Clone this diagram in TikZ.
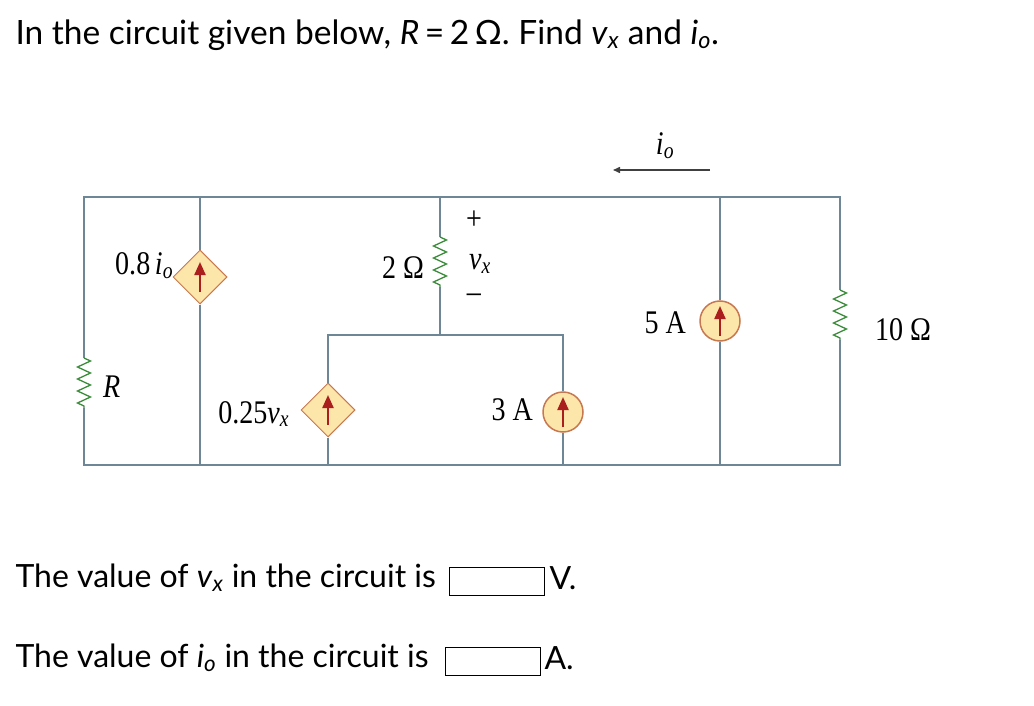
\documentclass[tikz,border=0pt]{standalone}
\usepackage{fontspec}
\setmainfont{Liberation Serif}
\newfontfamily\uisans{Lato}
\usetikzlibrary{shapes.geometric,decorations.pathmorphing,arrows.meta}
\definecolor{wire}{RGB}{110,135,150}
\definecolor{resg}{RGB}{60,140,60}
\definecolor{srcfill}{RGB}{253,230,170}
\definecolor{srcedge}{RGB}{200,120,80}
\definecolor{arr}{RGB}{170,30,30}
\tikzset{
 x=1pt,y=-1pt,
 w/.style={draw=wire,line width=1.5pt},
 res/.style={draw=resg,line width=1.3pt,decorate,decoration={zigzag,segment length=12pt,amplitude=6.5pt}},
 dsrc/.style={diamond,draw=srcedge,fill=srcfill,line width=1pt,minimum width=54pt,minimum height=54pt,inner sep=0pt},
 isrc/.style={circle,draw=srcedge,fill=srcfill,line width=1.5pt,minimum size=40pt,inner sep=0pt},
 lbl/.style={font=\fontsize{33}{38}\selectfont,xscale=0.85},
 txt/.style={font=\uisans\fontsize{33.5}{38}\selectfont,anchor=west},
 qtxt/.style={font=\uisans\fontsize{32}{38}\selectfont,anchor=west},
 ansbox/.style={draw=black,line width=1pt,minimum width=95pt,minimum height=28pt,inner sep=0pt}
}
\newcommand{\uparr}[1]{\draw[arr,line width=2.2pt,-{Triangle[width=11pt,length=13pt]}] ([yshift=-15pt]#1.center) -- ([yshift=15pt]#1.center);}
\begin{document}
\begin{tikzpicture}
\useasboundingbox (0,0) rectangle (1034,706);
\node[txt] (title) at (12,35) {In the circuit given below, \textit{R}\,=\,2\,Ω. Find \textit{v}\textsubscript{\textit{x}} and \textit{i}\textsubscript{\textit{o}}.};
\coordinate (tl) at (84,197); \coordinate (bl) at (84,465);
\coordinate (tr) at (840,197); \coordinate (br) at (840,465);
\coordinate (rA) at (84,358); \coordinate (rB) at (84,408);
\coordinate (t1) at (200,197); \coordinate (b1) at (200,465);
\coordinate (t2) at (440,197); \coordinate (r2a) at (440,237); \coordinate (r2b) at (440,287); \coordinate (m2) at (440,335);
\coordinate (ml) at (328,335); \coordinate (mr) at (563,335);
\coordinate (b3) at (328,465); \coordinate (b4) at (563,465);
\coordinate (t5) at (720,197); \coordinate (b5) at (720,465);
\coordinate (r6a) at (840,290); \coordinate (r6b) at (840,340);
\node[dsrc] (d1) at (200,277) {};
\node[dsrc] (d2) at (328,410) {};
\node[isrc] (c3) at (563,412) {};
\node[isrc] (c5) at (720,321) {};
\draw[w] (rA) -- (tl) -- (tr) -- (r6a);
\draw[w] (r6b) -- (br) -- (bl) -- (rB);
\draw[w] (t1) -- (d1) -- (b1);
\draw[w] (t2) -- (r2a); \draw[w] (r2b) -- (m2);
\draw[w] (b3) -- (d2) -- (ml) -- (mr) -- (c3) -- (b4);
\draw[w] (t5) -- (c5) -- (b5);
\draw[res] (rA) -- (rB);
\draw[res] (r2a) -- (r2b);
\draw[res] (r6a) -- (r6b);
\uparr{d1}\uparr{d2}\uparr{c3}\uparr{c5}
\node[lbl,anchor=east] (l1) at (176,266) {0.8\,\textit{i}\textsubscript{\textit{o}}};
\node[lbl,anchor=west] (lR) at (100,387) {\textit{R}};
\node[lbl,anchor=east] (l2) at (292,414) {0.25\textit{v}\textsubscript{\textit{x}}};
\node[lbl,anchor=east] (l3) at (536,410) {3 A};
\node[lbl,anchor=east] (l5) at (689,323) {5 A};
\node[lbl,anchor=east] (l4) at (427,268) {2 Ω};
\node[lbl,anchor=west] (l6) at (872,330) {10 Ω};
\node[lbl] (plus) at (474,220) {+};
\node[lbl] (vx) at (480,264) {\textit{v}\textsubscript{\textit{x}}};
\node[lbl] (minus) at (474,298) {\textendash};
\node[lbl] (io) at (665,146) {\textit{i}\textsubscript{\textit{o}}};
\coordinate (ia) at (710,170); \coordinate (ib) at (613,170);
\draw[line width=1.5pt,draw=black!75,-{Triangle[width=6pt,length=7pt]}] (ia) -- (ib);
\node[qtxt] (q1) at (12,578) {The value of \textit{v}\textsubscript{\textit{x}} in the circuit is};
\node[ansbox] (a1) at (497,581) {};
\node[qtxt] (u1) at (546,578) {V.};
\node[qtxt] (q2) at (12,658) {The value of \textit{i}\textsubscript{\textit{o}} in the circuit is};
\node[ansbox] (a2) at (493,661) {};
\node[qtxt] (u2) at (541,658) {A.};
\end{tikzpicture}
\end{document}
